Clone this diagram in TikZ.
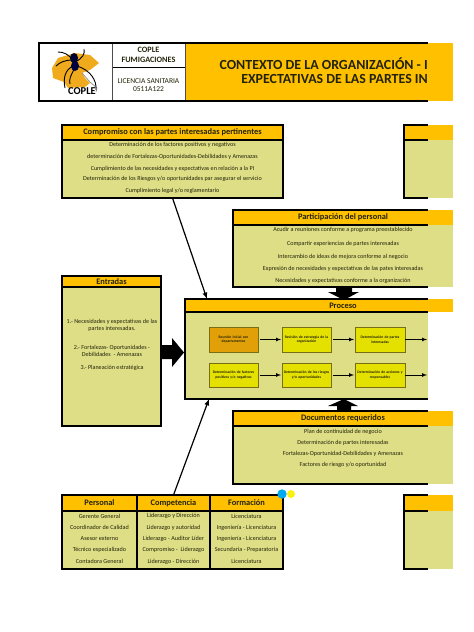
\documentclass[tikz,border=0pt]{standalone}
\usepackage{fontspec}
\setmainfont{Carlito}

\tikzset{
  cabeza/.style={fill=naranja,anchor=north west,inner sep=0pt,outer sep=0pt,font=\fontsize{8.4}{9}\selectfont\bfseries,text=tinta},
  cuerpo/.style={fill=crema,anchor=north west,inner sep=0pt,outer sep=0pt},
  fila/.style={inner sep=0pt,font=\fontsize{6.1}{7.2}\selectfont,text=tinta},
  celda/.style={inner sep=0pt,font=\fontsize{6.15}{7.2}\selectfont,text=tinta},
  paso/.style={draw=olivo,line width=0.8pt,fill=amarillo,anchor=north west,inner sep=1pt,outer sep=0pt,align=center,font=\fontsize{3.7}{4.5}\selectfont\bfseries,text=tinta},
  borde/.style={black,line width=1.1pt},
  pata/.style={black,line width=0.9pt},
  flecha/.style={-latex,black,line width=0.7pt}
}

\begin{document}
\begin{tikzpicture}[x=1pt,y=-1pt]

\definecolor{naranja}{RGB}{255,192,0}
\definecolor{crema}{RGB}{222,222,134}
\definecolor{amarillo}{RGB}{228,224,0}
\definecolor{ocre}{RGB}{226,160,8}
\definecolor{olivo}{RGB}{120,110,20}
\definecolor{tinta}{RGB}{35,35,10}
\definecolor{celeste}{RGB}{0,170,240}
\definecolor{limon}{RGB}{250,240,20}
\definecolor{miel}{RGB}{240,170,30}

\useasboundingbox (0,0) rectangle (474,632);

% encabezado
\fill[naranja] (185,43) rectangle (453,101);
\fill[miel] (52,68) -- (58,58) -- (75,53) -- (90,55) -- (99,63) -- (90,70) -- (82,73) -- (85,78) -- (90,83) -- (85,87) -- (68,88) -- (64,82) -- (53,78) -- cycle;
\draw[gray,line width=0.6pt] (82,73) -- (90,82) -- (97,88) -- (96,92);
\draw[pata] (75,62) .. controls (68,54) and (64,52) .. (58,52);
\draw[pata] (75,62) .. controls (83,58) and (85,54) .. (84,49);
\draw[pata] (73,66) .. controls (65,70) and (63,78) .. (65,88);
\draw[pata] (75,68) .. controls (70,76) and (69,80) .. (70,84);
\draw[pata] (77,66) .. controls (90,70) and (97,80) .. (96,90);
\draw[pata] (72,60) .. controls (66,60) and (60,62) .. (56,66);
\fill[black!80!blue] (74,58) ellipse (4 and 5);
\fill[black!75!blue] (75,66) ellipse (4 and 5);
\node[inner sep=0pt,font=\fontsize{10.5}{11}\selectfont\bfseries,text=black] (logotexto) at (82,91) {COPLE};

\draw[black,line width=0.7pt] (112,67) -- (185,67);
\draw[black!70,line width=0.7pt] (112,43) -- (112,101);
\draw[black!70,line width=0.7pt] (185,43) -- (185,101);
\draw[borde] (428,43) -- (39,43) -- (39,101) -- (428,101);

\node[inner sep=0pt,align=center,font=\fontsize{8.2}{9.4}\selectfont\bfseries,text=tinta] (empresa) at (148.5,55) {COPLE\\FUMIGACIONES};
\node[inner sep=0pt,align=center,font=\fontsize{7.5}{8.4}\selectfont,text=tinta] (licencia) at (148.5,85) {LICENCIA SANITARIA\\0511A122};
\node[inner sep=0pt,anchor=east,font=\fontsize{13.9}{16}\selectfont\bfseries,text=tinta] (titulouno) at (428,63.5) {CONTEXTO DE LA ORGANIZACIÓN - I};
\node[inner sep=0pt,anchor=east,font=\fontsize{13.9}{16}\selectfont\bfseries,text=tinta] (titulodos) at (428,79) {EXPECTATIVAS DE LAS PARTES IN};

% compromiso
\node[cuerpo,minimum width=221pt,minimum height=73pt] (compromiso) at (62,125) {};
\node[cabeza,minimum width=221pt,minimum height=15pt] (compromisotit) at (62,125) {Compromiso con las partes interesadas pertinentes};
\draw[borde] (compromiso.north west) rectangle (compromiso.south east);
\draw[borde] (compromisotit.south west) -- (compromisotit.south east);
\node[fila] (comp1) at (172.5,145) {Determinación de los factores positivos y negativos};
\node[fila] (comp2) at (172.5,157) {determinación de Fortalezas-Oportunidades-Debilidades y Amenazas};
\node[fila] (comp3) at (172.5,168.5) {Cumplimiento de las necesidades y expectativas en relación a la PI};
\node[fila] (comp4) at (172.5,179) {Determinación de los Riesgos y/o oportunidades par asegurar el servicio};
\node[fila] (comp5) at (172.5,191) {Cumplimiento legal y/o reglamentario};

% caja derecha arriba
\node[cuerpo,minimum width=49pt,minimum height=73pt] (derechauno) at (404,125) {};
\node[cabeza,minimum width=49pt,minimum height=15pt] (derechaunotit) at (404,125) {};
\draw[borde] (428,125) -- (404,125) -- (404,198) -- (428,198);
\draw[borde] (404,140) -- (428,140);

% participacion
\node[cuerpo,minimum width=220pt,minimum height=77pt] (participacion) at (233,210) {};
\node[cabeza,minimum width=220pt,minimum height=15pt] (participaciontit) at (233,210) {Participación del personal};
\draw[borde] (428,210) -- (233,210) -- (233,287) -- (428,287);
\draw[borde] (233,225) -- (428,225);
\node[fila] (part1) at (343,230) {Acudir a reuniones conforme a programa preestablecido};
\node[fila] (part2) at (343,243.5) {Compartir experiencias de partes interesadas};
\node[fila] (part3) at (343,257) {Intercambio de ideas de mejora conforme al negocio};
\node[fila] (part4) at (343,268.5) {Expresión de necesidades y expectativas de las pates interesadas};
\node[fila] (part5) at (343,280.5) {Necesidades y expectativas conforme a la organización};

% entradas
\node[cuerpo,minimum width=99pt,minimum height=150pt] (entradas) at (62,276) {};
\node[cabeza,minimum width=99pt,minimum height=11pt] (entradastit) at (62,276) {Entradas};
\draw[borde] (entradas.north west) rectangle (entradas.south east);
\draw[borde] (entradastit.south west) -- (entradastit.south east);
\node[fila,align=center] (ent1) at (112,325.5) {1.- Necesidades y expectativas de las\\partes interesadas.};
\node[fila,align=center] (ent2) at (112,350.5) {2.- Fortalezas- Oportunidades -\\Debilidades\ \ - Amenazas};
\node[fila] (ent3) at (112,368) {3.- Planeación estratégica};

% proceso
\node[cuerpo,minimum width=243pt,minimum height=100pt] (proceso) at (185,299) {};
\node[cabeza,minimum width=268pt,minimum height=13pt] (procesotit) at (185,299) {};
\node[inner sep=0pt,font=\fontsize{8.4}{9}\selectfont\bfseries,text=tinta] (procesotexto) at (343,305.5) {Proceso};
\draw[borde] (428,299) -- (185,299) -- (185,399) -- (428,399);
\draw[borde] (185,312) -- (428,312);

\node[paso,fill=ocre,text width=47pt,minimum height=25pt] (reunion) at (209,327) {Reunión inicial con\\departamentos};
\node[paso,text width=47pt,minimum height=25pt] (estrategia) at (282,327) {Revisión de estrategia de la\\organización};
\node[paso,text width=48pt,minimum height=25pt] (partes) at (355,327) {Determinación de partes\\interesadas};
\node[paso,text width=47pt,minimum height=24pt] (factores) at (209,363) {Determinación de factores\\positivos y/o negativos};
\node[paso,text width=47pt,minimum height=24pt] (riesgos) at (282,363) {Determinación de los riesgos\\y/o oportunidades};
\node[paso,text width=48pt,minimum height=24pt] (acciones) at (355,363) {Determinación de acciones y\\responsables};
\coordinate (salidauno) at (427,339.5);
\coordinate (salidados) at (427,375);

\draw[flecha] ([xshift=1.5pt]reunion.east) -- ([xshift=-1pt]estrategia.west);
\draw[flecha] ([xshift=1.5pt]estrategia.east) -- ([xshift=-1pt]partes.west);
\draw[flecha] (partes.east) -- (salidauno);
\draw[flecha] ([xshift=1.5pt]factores.east) -- ([xshift=-1pt]riesgos.west);
\draw[flecha] ([xshift=1.5pt]riesgos.east) -- ([xshift=-1pt]acciones.west);
\draw[flecha] (acciones.east) -- (salidados);

% documentos
\node[cuerpo,minimum width=220pt,minimum height=73pt] (documentos) at (233,411) {};
\node[cabeza,minimum width=220pt,minimum height=15pt] (documentostit) at (233,411) {Documentos requeridos};
\draw[borde] (428,411) -- (233,411) -- (233,484) -- (428,484);
\draw[borde] (233,426) -- (428,426);
\node[fila] (doc1) at (343,431.5) {Plan de continuidad de negocio};
\node[fila] (doc2) at (343,443) {Determinación de partes interesadas};
\node[fila] (doc3) at (343,453.5) {Fortalezas-Oportunidad-Debilidades y Amenazas};
\node[fila] (doc4) at (343,465) {Factores de riesgo y/o oportunidad};

% tabla
\node[cuerpo,minimum width=75pt,minimum height=74pt] (personal) at (62,495) {};
\node[cuerpo,minimum width=73pt,minimum height=74pt] (competencia) at (137,495) {};
\node[cuerpo,minimum width=73pt,minimum height=74pt] (formacion) at (210,495) {};
\node[cabeza,minimum width=75pt,minimum height=16pt] (personaltit) at (62,495) {Personal};
\node[cabeza,minimum width=73pt,minimum height=16pt] (competenciatit) at (137,495) {Competencia};
\node[cabeza,minimum width=73pt,minimum height=16pt] (formaciontit) at (210,495) {Formación};
\draw[borde] (personal.north west) rectangle (personal.south east);
\draw[borde] (competencia.north west) rectangle (competencia.south east);
\draw[borde] (formacion.north west) rectangle (formacion.south east);
\draw[borde] (personaltit.south west) -- (formaciontit.south east);

\node[celda] (per1) at (99.5,516) {Gerente General};
\node[celda] (per2) at (99.5,527.5) {Coordinador de Calidad};
\node[celda] (per3) at (99.5,538.5) {Asesor externo};
\node[celda] (per4) at (99.5,550) {Técnico especializado};
\node[celda] (per5) at (99.5,561.5) {Contadora General};
\node[celda] (com1) at (173.5,516) {Liderazgo y Dirección};
\node[celda] (com2) at (173.5,527.5) {Liderazgo y autoridad};
\node[celda] (com3) at (173.5,538.5) {Liderazgo - Auditor Líder};
\node[celda] (com4) at (173.5,550) {Compromiso -\ \ Liderazgo};
\node[celda] (com5) at (173.5,561.5) {Liderazgo - Dirección};
\node[celda] (for1) at (246.5,516) {Licenciatura};
\node[celda] (for2) at (246.5,527.5) {Ingeniería - Licenciatura};
\node[celda] (for3) at (246.5,538.5) {Ingeniería - Licenciatura};
\node[celda] (for4) at (246.5,550) {Secundaria - Preparatoria};
\node[celda] (for5) at (246.5,561.5) {Licenciatura};

% caja derecha abajo
\node[cuerpo,minimum width=49pt,minimum height=74pt] (derechados) at (404,495) {};
\node[cabeza,minimum width=49pt,minimum height=16pt] (derechadostit) at (404,495) {};
\draw[borde] (428,495) -- (404,495) -- (404,569) -- (428,569);
\draw[borde] (404,511) -- (428,511);

% flechas gruesas
\fill[black] (161,345) -- (172,345) -- (172,338) -- (184,352.5) -- (172,367) -- (172,359) -- (161,359) -- cycle;
\fill[black] (336,287) -- (352,287) -- (352,292) -- (359,292) -- (344,300) -- (328,292) -- (336,292) -- cycle;
\fill[black] (337,411) -- (351,411) -- (351,406) -- (358,406) -- (344,399) -- (328,406) -- (337,406) -- cycle;

% lineas
\coordinate (llegadauno) at (207,299);
\coordinate (llegadados) at (209,399);
\draw[flecha,line width=1.2pt] (compromiso.south) -- (llegadauno);
\draw[flecha,line width=1.2pt] (competencia.north) -- (llegadados);

% puntos
\fill[limon] (291,494) circle [radius = 4];
\fill[celeste] (282,494) circle [radius = 4.7];

\end{tikzpicture}
\end{document}
